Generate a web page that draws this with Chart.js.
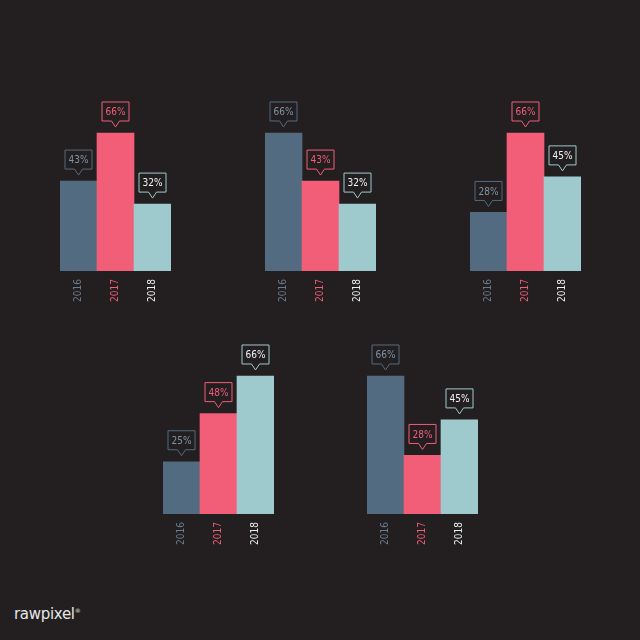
<!DOCTYPE html>
<html>
<head>
<meta charset="utf-8">
<script src="https://cdn.jsdelivr.net/npm/chart.js@4/dist/chart.umd.min.js"></script>
<style>
  body { margin: 0; background: #231f20; }
  #wrap { position: relative; width: 640px; height: 640px; background: #231f20; overflow: hidden; }
  .box { position: absolute; width: 111px; height: 260px; }
  #mark { position: absolute; left: 14px; top: 605px; color: #e6e6e6; font: 15px "DejaVu Sans", sans-serif; letter-spacing: -0.3px; }
  #mark sup { font-size: 6px; }
</style>
</head>
<body>
<div id="wrap">
  <div class="box" style="left:60px;top:71px"><canvas id="c1"></canvas></div>
  <div class="box" style="left:265px;top:71px"><canvas id="c2"></canvas></div>
  <div class="box" style="left:470px;top:71px"><canvas id="c3"></canvas></div>
  <div class="box" style="left:163px;top:314px"><canvas id="c4"></canvas></div>
  <div class="box" style="left:367px;top:314px"><canvas id="c5"></canvas></div>
  <div id="mark">rawpixel<sup>®</sup></div>
</div>
<script>
const years = ["2016", "2017", "2018"];
const chart1 = [43, 66, 32];
const chart2 = [66, 43, 32];
const chart3 = [28, 66, 45];
const chart4 = [25, 48, 66];
const chart5 = [66, 28, 45];

const barColors = ["#536b80", "#f25d78", "#9fcacd"];
const labelColors = ["#6a7d8e", "#f25d78", "#e8eef0"];
const calloutText = ["#7f93a4", "#f25d78", "#eef3f4"];
const bg = "#231f20";

// draws the little speech-box above every bar
const callouts = {
    id: "callouts",
    afterDatasetsDraw(chart) {
        const c = chart.ctx;
        const meta = chart.getDatasetMeta(0);
        const values = chart.data.datasets[0].data;
        meta.data.forEach((bar, i) => {
            const w = 27, h = 19, tip = 6;
            const tipY = bar.y - 6;
            const bottom = tipY - tip;
            const top = bottom - h;
            const left = bar.x - w / 2;
            c.save();
            c.beginPath();
            c.moveTo(left, top);
            c.lineTo(left + w, top);
            c.lineTo(left + w, bottom);
            c.lineTo(bar.x + 4, bottom);
            c.lineTo(bar.x, tipY);
            c.lineTo(bar.x - 4, bottom);
            c.lineTo(left, bottom);
            c.closePath();
            c.fillStyle = bg;
            c.fill();
            c.lineWidth = 1;
            c.strokeStyle = barColors[i];
            c.stroke();
            c.fillStyle = calloutText[i];
            c.font = '10px "DejaVu Sans Condensed", "DejaVu Sans", sans-serif';
            c.textAlign = "center";
            c.textBaseline = "middle";
            c.fillText(values[i] + "%", bar.x, top + h / 2 + 1);
            c.restore();
        });
    }
};

function makeChart(id, values) {
    new Chart(document.getElementById(id), {
        type: "bar",
        data: {
            labels: years,
            datasets: [{
                data: values,
                backgroundColor: barColors,
                borderWidth: 0,
                barPercentage: 1,
                categoryPercentage: 1
            }]
        },
        options: {
            responsive: true,
            maintainAspectRatio: false,
            animation: false,
            layout: { padding: { top: 30, left: 0, right: 0, bottom: 0 } },
            plugins: { legend: { display: false }, tooltip: { enabled: false } },
            scales: {
                x: {
                    grid: { display: false },
                    border: { display: false },
                    afterFit: scale => { scale.height = 60; },
                    ticks: {
                        minRotation: 90,
                        maxRotation: 90,
                        padding: 0,
                        color: ctx => labelColors[ctx.index],
                        font: { family: '"DejaVu Sans Condensed", "DejaVu Sans", sans-serif', size: 10 }
                    }
                },
                y: {
                    display: false,
                    min: 0,
                    max: 81.3
                }
            }
        },
        plugins: [callouts]
    });
}

makeChart("c1", chart1);
makeChart("c2", chart2);
makeChart("c3", chart3);
makeChart("c4", chart4);
makeChart("c5", chart5);
</script>
</body>
</html>
